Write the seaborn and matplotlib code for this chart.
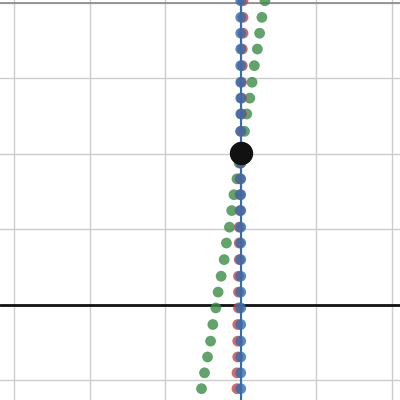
import matplotlib
matplotlib.use("Agg")
import matplotlib.pyplot as plt
import seaborn as sns
import pandas as pd

y_vals = [-1.11,-0.90,-0.69,-0.48,-0.26,-0.04,0.17,0.38,0.60,0.82,1.03,1.25,1.46,1.67,1.88,2.09,2.30,2.53,2.74,2.95,3.17,3.39,3.60,3.81,4.03]
green_x = [-0.52,-0.48,-0.44,-0.40,-0.37,-0.33,-0.30,-0.26,-0.22,-0.19,-0.15,-0.12,-0.09,-0.05,-0.02,0.01,0.05,0.08,0.12,0.15,0.18,0.22,0.25,0.28,0.32]
red_x = [-0.05,-0.05,-0.04,-0.04,-0.04,-0.03,-0.03,-0.03,-0.02,-0.02,-0.02,-0.01,-0.01,-0.01,0.0,0.0,0.0,0.01,0.01,0.01,0.02,0.02,0.03,0.03,0.03]
blue_x = [0.0]*25
center = (0.0, 2.01)

sns.set_style("white")
fig = plt.figure(figsize=(4, 4), dpi=100)
ax = fig.add_axes([0, 0, 1, 1])
ax.set_xlim(-3.19, 2.11)
ax.set_ylim(-1.26, 4.04)
for g in [-3, -2, -1, 0, 1, 2]:
    ax.axvline(g, color="#cccccc", lw=1, zorder=0)
for g in [-1, 1, 2, 3, 4]:
    ax.axhline(g, color="#cccccc", lw=1, zorder=0)
ax.axhline(4, color="#888888", lw=1.2, zorder=0)
ax.axhline(0, color="#111111", lw=2, zorder=1)
ax.axvline(0, color="#2d70b3", lw=1.5, zorder=2)

df = pd.DataFrame({"y": y_vals * 3, "x": green_x + red_x + blue_x,
                   "s": ["g"] * 25 + ["r"] * 25 + ["b"] * 25})
sns.scatterplot(data=df, x="x", y="y", hue="s",
                palette={"g": "#388c46", "r": "#c74440", "b": "#2d70b3"},
                s=60, alpha=0.8, edgecolor="none", legend=False, ax=ax, zorder=3)
ax.scatter([center[0]], [center[1]], s=250, color="#111111", zorder=5)
ax.set_xticks([]); ax.set_yticks([])
ax.set_xlabel(""); ax.set_ylabel("")
for sp in ax.spines.values():
    sp.set_visible(False)
fig.savefig("out.png", dpi=100)
